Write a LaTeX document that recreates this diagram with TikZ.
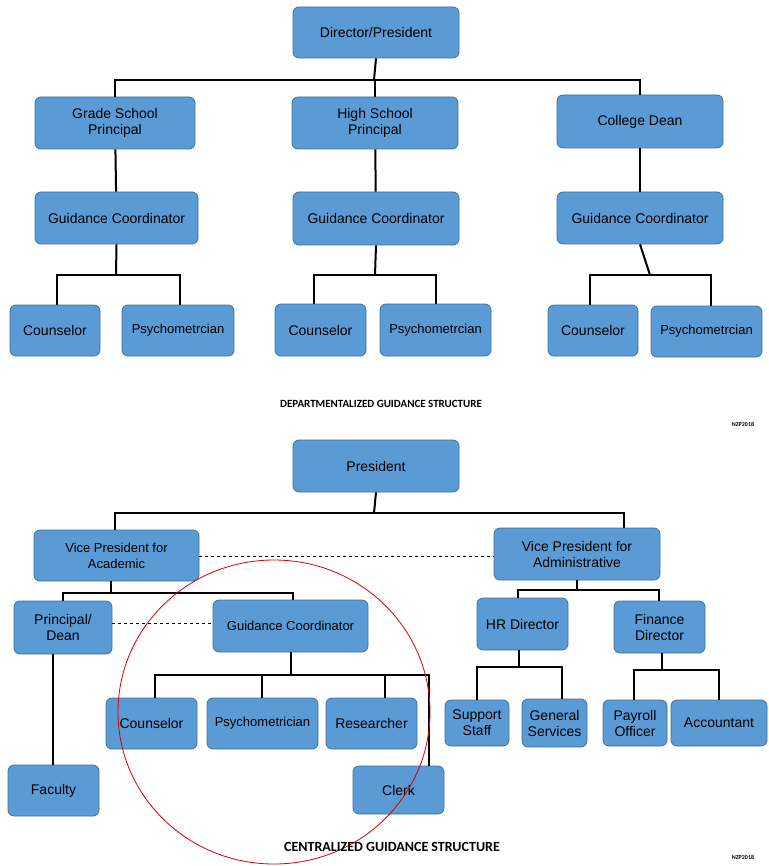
\documentclass[tikz,border=0pt]{standalone}
\usepackage{fontspec}
\setmainfont{Liberation Sans}
\newfontfamily\titlefont{Carlito}
\definecolor{boxfill}{HTML}{5B9BD5}
\definecolor{boxline}{HTML}{41719C}
\begin{document}
\begin{tikzpicture}[x=1pt,y=-1pt,
  bx/.style={draw=boxline,fill=boxfill,rounded corners=6pt,line width=0.8pt,align=center,font=\fontsize{14}{16}\selectfont,inner sep=1pt},
  ln/.style={line width=2pt,black},
  dl/.style={densely dashed,line width=0.7pt,dash pattern=on 3pt off 3pt}]
\fill[white] (0,0) rectangle (768,866);
\newcommand\bxn[6]{\node[bx,minimum width=#4-#2,minimum height=#5-#3] (#1) at ({(#2+#4)/2},{(#3+#5)/2}) {#6};}
% top
\bxn{dir}{293}{7}{459}{58}{Director/President}
\bxn{gs}{35}{97}{195}{149}{Grade School\\Principal}
\bxn{hs}{292}{97}{458}{149}{High School\\Principal}
\bxn{cd}{557}{95}{723}{148}{College Dean}
\bxn{g1}{35}{192}{198}{244}{Guidance Coordinator}
\bxn{g2}{293}{192}{459}{245}{Guidance Coordinator}
\bxn{g3}{557}{192}{723}{244}{Guidance Coordinator}
\bxn{c1}{10}{305}{100}{356}{Counselor}
\bxn{p1}{122}{305}{234}{356}{\fontsize{13}{15}\selectfont Psychometrcian}
\bxn{c2}{275}{304}{366}{356}{Counselor}
\bxn{p2}{380}{304}{491}{356}{\fontsize{13}{15}\selectfont Psychometrcian}
\bxn{c3}{548}{305}{638}{356}{Counselor}
\bxn{p3}{651}{306}{762}{357}{\fontsize{13}{15}\selectfont Psychometrcian}
\coordinate (b1) at (374,80);
\draw[ln] (dir.south) -- (b1);
\draw[ln] (gs.north) |- (b1) -| (cd.north);
\draw[ln] (hs.north) -- (hs.north|-b1);
\draw[ln] (gs) -- (g1); \draw[ln] (hs) -- (g2); \draw[ln] (cd) -- (g3);
\coordinate (t1) at (116,275); \coordinate (t2) at (375,275); \coordinate (t3) at (650,275);
\draw[ln] (g1.south) -- (t1); \draw[ln] (g2.south) -- (t2); \draw[ln] (g3.south) -- (t3);
\draw[ln] (c1.north-|57,0) |- (t1) -| (p1.north-|180,0);
\draw[ln] (c2.north-|314,0) |- (t2) -| (p2.north-|436,0);
\draw[ln] (c3.north-|590,0) |- (t3) -| (p3.north-|711,0);
\node[font=\titlefont\bfseries\fontsize{11}{13}\selectfont] (t1lbl) at (381,404) {DEPARTMENTALIZED GUIDANCE STRUCTURE};
\node[font=\titlefont\bfseries\fontsize{6}{7}\selectfont] (n1) at (743,424) {NZP2018};
% bottom
\bxn{pres}{293}{440}{459}{492}{President}
\bxn{vpa}{34}{530}{199}{581}{\fontsize{13}{15}\selectfont Vice President for\\\fontsize{13}{15}\selectfont Academic}
\bxn{vpd}{494}{528}{660}{580}{Vice President for\\Administrative}
\bxn{pd}{14}{601}{112}{654}{Principal/\\Dean}
\bxn{gc}{213}{600}{368}{652}{\fontsize{13}{15}\selectfont Guidance Coordinator}
\bxn{fac}{8}{765}{99}{816}{Faculty}
\bxn{cou}{106}{698}{197}{749}{Counselor}
\bxn{psy}{207}{698}{318}{749}{\fontsize{13}{15}\selectfont Psychometrician}
\bxn{res}{326}{698}{417}{749}{Researcher}
\bxn{clk}{353}{766}{444}{814}{Clerk}
\bxn{hr}{477}{598}{568}{650}{HR Director}
\bxn{fin}{614}{601}{705}{653}{Finance\\Director}
\bxn{ss}{445}{700}{509}{746}{Support\\Staff}
\bxn{gsv}{522}{699}{587}{747}{General\\Services}
\bxn{pay}{603}{700}{667}{746}{Payroll\\Officer}
\bxn{acc}{671}{700}{767}{746}{Accountant}
\coordinate (b2) at (374,513);
\draw[ln] (pres.south) -- (b2);
\draw[ln] (vpa.north-|115,0) |- (b2) -| (vpd.north-|624,0);
\draw[dl] (vpa.east|-0,556) -- (vpd.west|-0,556);
\coordinate (b3) at (111,593);
\draw[ln] (vpa.south-|111,0) -- (b3);
\draw[ln] (pd.north-|63,0) |- (b3) -| (gc.north-|293,0);
\draw[dl] (pd.east|-0,623) -- (gc.west|-0,623);
\draw[ln] (pd.south-|53,0) -- (fac.north-|53,0);
\coordinate (b4) at (291,675);
\draw[ln] (gc.south-|291,0) -- (b4);
\draw[ln] (cou.north-|155,0) |- (b4) -| (clk.north-|429,0);
\draw[line width=1.2pt] (psy.north-|262,0) -- (262,675);
\draw[ln] (res.north-|385,0) -- (385,675);
\coordinate (b5) at (577,590);
\draw[ln] (vpd.south-|577,0) -- (b5);
\draw[ln] (hr.north-|518,0) |- (b5) -| (fin.north-|659,0);
\coordinate (b6) at (519,667);
\draw[ln] (hr.south-|519,0) -- (b6);
\draw[ln] (ss.north-|477,0) |- (b6) -| (gsv.north-|562,0);
\coordinate (b7) at (662,670);
\draw[ln] (fin.south-|662,0) -- (b7);
\draw[ln] (pay.north-|634,0) |- (b7) -| (acc.north-|719,0);
\draw[red!85!black,line width=0.8pt] (274,712) ellipse [x radius=156,y radius=152];
\node[font=\titlefont\bfseries\fontsize{14}{16}\selectfont] (t2lbl) at (392,847) {CENTRALIZED GUIDANCE STRUCTURE};
\node[font=\titlefont\bfseries\fontsize{6}{7}\selectfont] (n2) at (743,857) {NZP2018};
\end{tikzpicture}
\end{document}
